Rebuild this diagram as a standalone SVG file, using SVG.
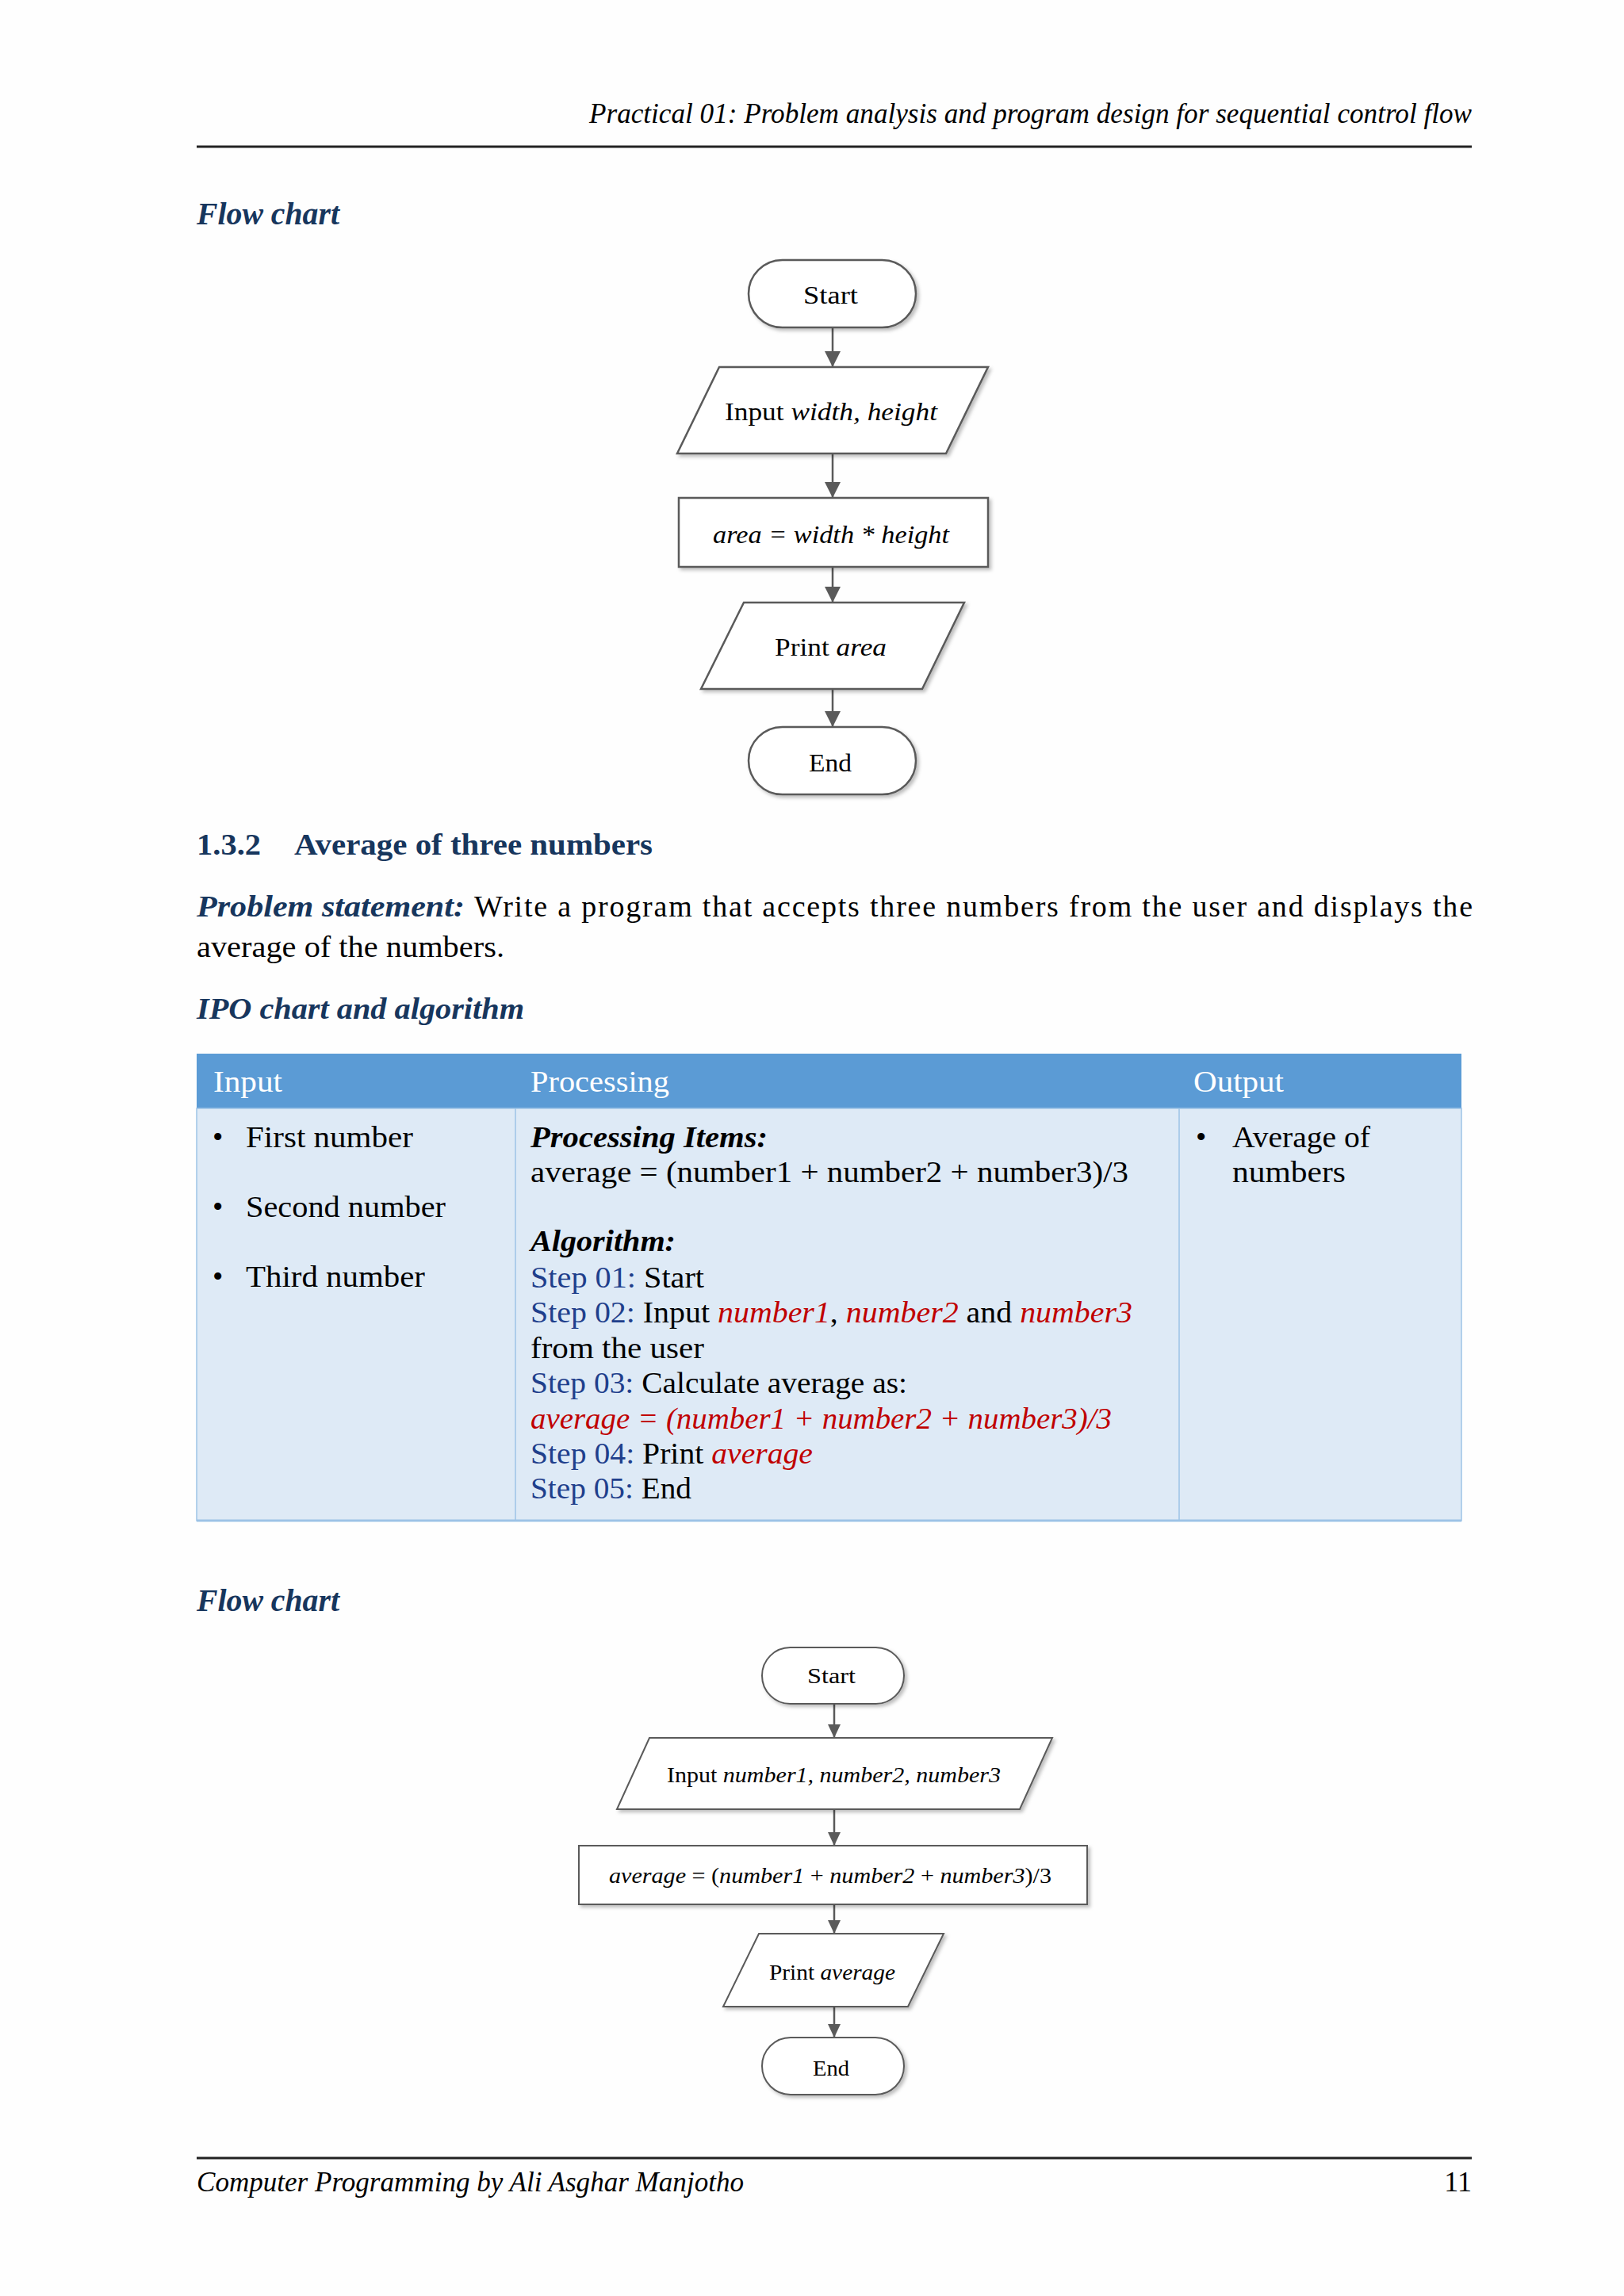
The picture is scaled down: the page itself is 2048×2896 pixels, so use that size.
<svg xmlns="http://www.w3.org/2000/svg" width="2048" height="2896" viewBox="0 0 2048 2896">
<style>
text{font-family:"Liberation Serif","DejaVu Serif",serif;fill:#000}
.it{font-style:italic}
.hd{font-weight:bold;font-style:italic;fill:#17365D}
.sec{font-weight:bold;fill:#17365D}
.b{font-size:38px}
.th{font-size:38px;fill:#fff}
.st{fill:#1F3F8C}
.rd{fill:#C00000;font-style:italic}
.shape{fill:#fff;stroke:#5a5a5a;stroke-width:2.5;filter:url(#sh)}
.shape2{fill:#fff;stroke:#5a5a5a;stroke-width:2;filter:url(#sh)}
.f1{font-size:32px}
.f2{font-size:28px}
.conn line{stroke:#5a5a5a;stroke-width:2.5}
</style>
<defs>
<filter id="sh" x="-10%" y="-10%" width="130%" height="140%">
<feDropShadow dx="3" dy="3" stdDeviation="2" flood-color="#000" flood-opacity="0.25"/>
</filter>
<marker id="ah" markerUnits="userSpaceOnUse" markerWidth="20" markerHeight="20" refX="20" refY="10" orient="auto">
<path d="M0,0 L20,10 L0,20 z" fill="#5a5a5a"/>
</marker>
<marker id="ah2" markerUnits="userSpaceOnUse" markerWidth="17" markerHeight="16" refX="17" refY="8" orient="auto">
<path d="M0,0 L17,8 L0,16 z" fill="#5a5a5a"/>
</marker>
</defs>
<rect width="2048" height="2896" fill="#fefefe"/>

<!-- page header -->
<text class="it" x="1856" y="155" font-size="36" text-anchor="end" textLength="1113" lengthAdjust="spacingAndGlyphs">Practical 01: Problem analysis and program design for sequential control flow</text>
<line x1="248" y1="185" x2="1856" y2="185" stroke="#222" stroke-width="3"/>

<text class="hd" x="248" y="283" font-size="40" textLength="180" lengthAdjust="spacingAndGlyphs">Flow chart</text>

<!-- flowchart 1 -->
<g class="conn" id="connectors1">
<line x1="1050" y1="413" x2="1050" y2="463" marker-end="url(#ah)"/>
<line x1="1050" y1="572" x2="1050" y2="628" marker-end="url(#ah)"/>
<line x1="1050" y1="715" x2="1050" y2="760" marker-end="url(#ah)"/>
<line x1="1050" y1="869" x2="1050" y2="917" marker-end="url(#ah)"/>
</g>
<g id="start1">
<rect class="shape" x="944" y="328" width="211" height="85" rx="42.5"/>
<text class="f1" x="1013" y="383" textLength="69" lengthAdjust="spacingAndGlyphs">Start</text>
</g>
<g id="input1">
<polygon class="shape" points="907,463 1246,463 1193,572 854,572"/>
<text class="f1" x="914" y="530" textLength="268" lengthAdjust="spacingAndGlyphs">Input <tspan class="it">width, height</tspan></text>
</g>
<g id="process1">
<rect class="shape" x="856" y="628" width="390" height="87"/>
<text class="f1 it" x="899" y="685" textLength="298" lengthAdjust="spacingAndGlyphs">area = width * height</text>
</g>
<g id="print1">
<polygon class="shape" points="938,760 1216,760 1163,869 884,869"/>
<text class="f1" x="977" y="827" textLength="141" lengthAdjust="spacingAndGlyphs">Print <tspan class="it">area</tspan></text>
</g>
<g id="end1">
<rect class="shape" x="944" y="917" width="211" height="85" rx="42.5"/>
<text class="f1" x="1020" y="973" textLength="54" lengthAdjust="spacingAndGlyphs">End</text>
</g>

<!-- section text -->
<text class="sec" x="248" y="1078" font-size="38" textLength="81" lengthAdjust="spacingAndGlyphs">1.3.2</text>
<text class="sec" x="371" y="1078" font-size="38" textLength="452" lengthAdjust="spacingAndGlyphs">Average of three numbers</text>

<text class="hd" x="248" y="1156" font-size="38" textLength="338" lengthAdjust="spacingAndGlyphs">Problem statement:</text>
<text class="b" x="598" y="1156" textLength="1259" lengthAdjust="spacing">Write a program that accepts three numbers from the user and displays the</text>
<text class="b" x="248" y="1207" textLength="388" lengthAdjust="spacingAndGlyphs">average of the numbers.</text>

<text class="hd" x="248" y="1285" font-size="38" textLength="413" lengthAdjust="spacingAndGlyphs">IPO chart and algorithm</text>

<!-- IPO table -->
<g id="ipo_table">
<rect x="248" y="1329" width="1595" height="69" fill="#5B9BD5"/>
<rect x="248" y="1398" width="1595" height="520" fill="#DEEAF6" stroke="#9DC3E6" stroke-width="1.5"/>
<line x1="248" y1="1918" x2="1843" y2="1918" stroke="#9DC3E6" stroke-width="3"/>
<line x1="650" y1="1398" x2="650" y2="1918" stroke="#9DC3E6" stroke-width="1.5"/>
<line x1="1487" y1="1398" x2="1487" y2="1918" stroke="#9DC3E6" stroke-width="1.5"/>
<text class="th" x="269" y="1377" textLength="87" lengthAdjust="spacingAndGlyphs">Input</text>
<text class="th" x="669" y="1377" textLength="175" lengthAdjust="spacingAndGlyphs">Processing</text>
<text class="th" x="1505" y="1377" textLength="114" lengthAdjust="spacingAndGlyphs">Output</text>

<text class="b" x="268" y="1447">•</text>
<text class="b" x="310" y="1447" textLength="211" lengthAdjust="spacingAndGlyphs">First number</text>
<text class="b" x="268" y="1535">•</text>
<text class="b" x="310" y="1535" textLength="252" lengthAdjust="spacingAndGlyphs">Second number</text>
<text class="b" x="268" y="1623">•</text>
<text class="b" x="310" y="1623" textLength="226" lengthAdjust="spacingAndGlyphs">Third number</text>

<text class="b" x="669" y="1447" font-weight="bold" font-style="italic" textLength="299" lengthAdjust="spacingAndGlyphs">Processing Items:</text>
<text class="b" x="669" y="1491" textLength="754" lengthAdjust="spacingAndGlyphs">average = (number1 + number2 + number3)/3</text>
<text class="b" x="669" y="1578" font-weight="bold" font-style="italic" textLength="183" lengthAdjust="spacingAndGlyphs">Algorithm:</text>
<text class="b" x="669" y="1624" textLength="219" lengthAdjust="spacingAndGlyphs"><tspan class="st">Step 01:</tspan> Start</text>
<text class="b" x="669" y="1668" textLength="759" lengthAdjust="spacingAndGlyphs"><tspan class="st">Step 02:</tspan> Input <tspan class="rd">number1</tspan>, <tspan class="rd">number2</tspan> and <tspan class="rd">number3</tspan></text>
<text class="b" x="669" y="1713" textLength="219" lengthAdjust="spacingAndGlyphs">from the user</text>
<text class="b" x="669" y="1757" textLength="475" lengthAdjust="spacingAndGlyphs"><tspan class="st">Step 03:</tspan> Calculate average as:</text>
<text class="b rd" x="669" y="1802" textLength="733" lengthAdjust="spacingAndGlyphs">average = (number1 + number2 + number3)/3</text>
<text class="b" x="669" y="1846" textLength="356" lengthAdjust="spacingAndGlyphs"><tspan class="st">Step 04:</tspan> Print <tspan class="rd">average</tspan></text>
<text class="b" x="669" y="1890" textLength="203" lengthAdjust="spacingAndGlyphs"><tspan class="st">Step 05:</tspan> End</text>

<text class="b" x="1508" y="1447">•</text>
<text class="b" x="1554" y="1447" textLength="174" lengthAdjust="spacingAndGlyphs">Average of</text>
<text class="b" x="1554" y="1491" textLength="143" lengthAdjust="spacingAndGlyphs">numbers</text>
</g>

<text class="hd" x="248" y="2032" font-size="40" textLength="180" lengthAdjust="spacingAndGlyphs">Flow chart</text>

<!-- flowchart 2 -->
<g class="conn" id="connectors2">
<line x1="1052" y1="2149" x2="1052" y2="2192" marker-end="url(#ah2)"/>
<line x1="1052" y1="2282" x2="1052" y2="2328" marker-end="url(#ah2)"/>
<line x1="1052" y1="2402" x2="1052" y2="2439" marker-end="url(#ah2)"/>
<line x1="1052" y1="2531" x2="1052" y2="2570" marker-end="url(#ah2)"/>
</g>
<g id="start2">
<rect class="shape2" x="961" y="2078" width="179" height="71" rx="35.5"/>
<text class="f2" x="1018" y="2123" textLength="61" lengthAdjust="spacingAndGlyphs">Start</text>
</g>
<g id="input2">
<polygon class="shape2" points="819,2192 1327,2192 1286,2282 778,2282"/>
<text class="f2" x="841" y="2248" textLength="421" lengthAdjust="spacingAndGlyphs">Input <tspan class="it">number1, number2, number3</tspan></text>
</g>
<g id="process2">
<rect class="shape2" x="730" y="2328" width="641" height="74"/>
<text class="f2" x="768" y="2375" textLength="558" lengthAdjust="spacingAndGlyphs"><tspan class="it">average</tspan> = (<tspan class="it">number1</tspan> + <tspan class="it">number2</tspan> + <tspan class="it">number3</tspan>)/3</text>
</g>
<g id="print2">
<polygon class="shape2" points="957,2439 1190,2439 1145,2531 912,2531"/>
<text class="f2" x="970" y="2497" textLength="159" lengthAdjust="spacingAndGlyphs">Print <tspan class="it">average</tspan></text>
</g>
<g id="end2">
<rect class="shape2" x="961" y="2570" width="179" height="72" rx="36"/>
<text class="f2" x="1025" y="2618" textLength="46" lengthAdjust="spacingAndGlyphs">End</text>
</g>

<!-- footer -->
<line x1="248" y1="2722" x2="1856" y2="2722" stroke="#222" stroke-width="3"/>
<text class="it" x="248" y="2764" font-size="36" textLength="690" lengthAdjust="spacingAndGlyphs">Computer Programming by Ali Asghar Manjotho</text>
<text x="1856" y="2764" font-size="36" text-anchor="end">11</text>
</svg>
